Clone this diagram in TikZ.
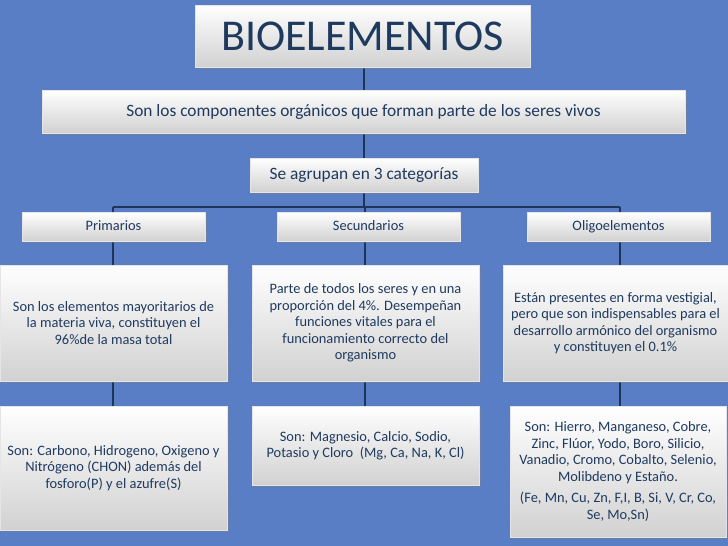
\documentclass[tikz,border=0pt]{standalone}
\usepackage{fontspec}
\setmainfont{Carlito}
\usetikzlibrary{shadows}
\definecolor{bg}{HTML}{5A7EC6}
\definecolor{txt}{HTML}{1F3A5F}
\definecolor{ln}{HTML}{1C3559}
\tikzset{
 bx/.style={draw=white!80!gray, line width=0.4pt, top color=white, bottom color=black!18, text=txt, align=flush center, inner sep=2pt,
   drop shadow={shadow xshift=1.5pt, shadow yshift=-1.5pt, opacity=0.45}},
 con/.style={draw=ln, line width=1.6pt}
}
\begin{document}
\begin{tikzpicture}[x=0.75pt,y=-0.75pt]
\fill[bg] (0,0) rectangle (728,546);
\useasboundingbox (0,0) rectangle (728,546);
\draw[con] (364,60) -- (364,165);
\draw[con] (113,207) -- (620,207);
\draw[con] (364,190) -- (364,207);
\foreach \x in {113,365,620}{\draw[con] (\x,207) -- (\x,420);}
\node[bx, minimum width=335*0.75pt, minimum height=62*0.75pt, font=\fontsize{33}{36}\selectfont] (t) at (362.5,36) {BIOELEMENTOS};
\node[bx, minimum width=643*0.75pt, minimum height=43*0.75pt, font=\fontsize{13}{15}\selectfont] (s) at (363.5,111.5) {Son los componentes orgánicos que forman parte de los seres vivos};
\node[bx, minimum width=228*0.75pt, minimum height=34*0.75pt, font=\fontsize{13}{15}\selectfont] (g) at (364,175) {Se agrupan en 3 categorías};
\foreach \n/\x/\t in {p/113.5/Primarios, s2/368.5/Secundarios, o/618.5/Oligoelementos}{
 \node[bx, minimum width=183*0.75pt, minimum height=29*0.75pt, text height=8pt, text depth=2pt, font=\fontsize{10.8}{12}\selectfont] (\n) at (\x,226.5) {\t};}
\tikzset{body/.style={bx, font=\fontsize{10.8}{12.4}\selectfont}}
\node[body, minimum width=227*0.75pt, minimum height=116*0.75pt] (pd) at (113.5,323) {Son los elementos mayoritarios de\\la materia viva, constituyen el\\96\%de la masa total};
\node[body, minimum width=227*0.75pt, minimum height=116*0.75pt] (sd) at (365.5,323) {Parte de todos los seres y en una\\proporción del 4\%. Desempeñan\\funciones vitales para el\\funcionamiento correcto del\\organismo};
\node[body, minimum width=225*0.75pt, minimum height=116*0.75pt] (od) at (615.5,323) {Están presentes en forma vestigial,\\pero que son indispensables para el\\desarrollo armónico del organismo\\y constituyen el 0.1\%};
\node[body, minimum width=227*0.75pt, minimum height=124*0.75pt] (pb) at (113.5,468) {Son: Carbono, Hidrogeno, Oxigeno y\\Nitrógeno (CHON) además del\\fosforo(P) y el azufre(S)};
\node[body, minimum width=227*0.75pt, minimum height=79*0.75pt] (sb) at (365.5,445.5) {Son: Magnesio, Calcio, Sodio,\\Potasio y Cloro~ (Mg, Ca, Na, K, Cl)};
\node[body, minimum width=216*0.75pt, minimum height=131*0.75pt] (ob) at (618,471.5) {Son: Hierro, Manganeso, Cobre,\\Zinc, Flúor, Yodo, Boro, Silicio,\\Vanadio, Cromo, Cobalto, Selenio,\\Molibdeno y Estaño.\\[4pt](Fe, Mn, Cu, Zn, F,I, B, Si, V, Cr, Co,\\Se, Mo,Sn)};
\end{tikzpicture}
\end{document}
